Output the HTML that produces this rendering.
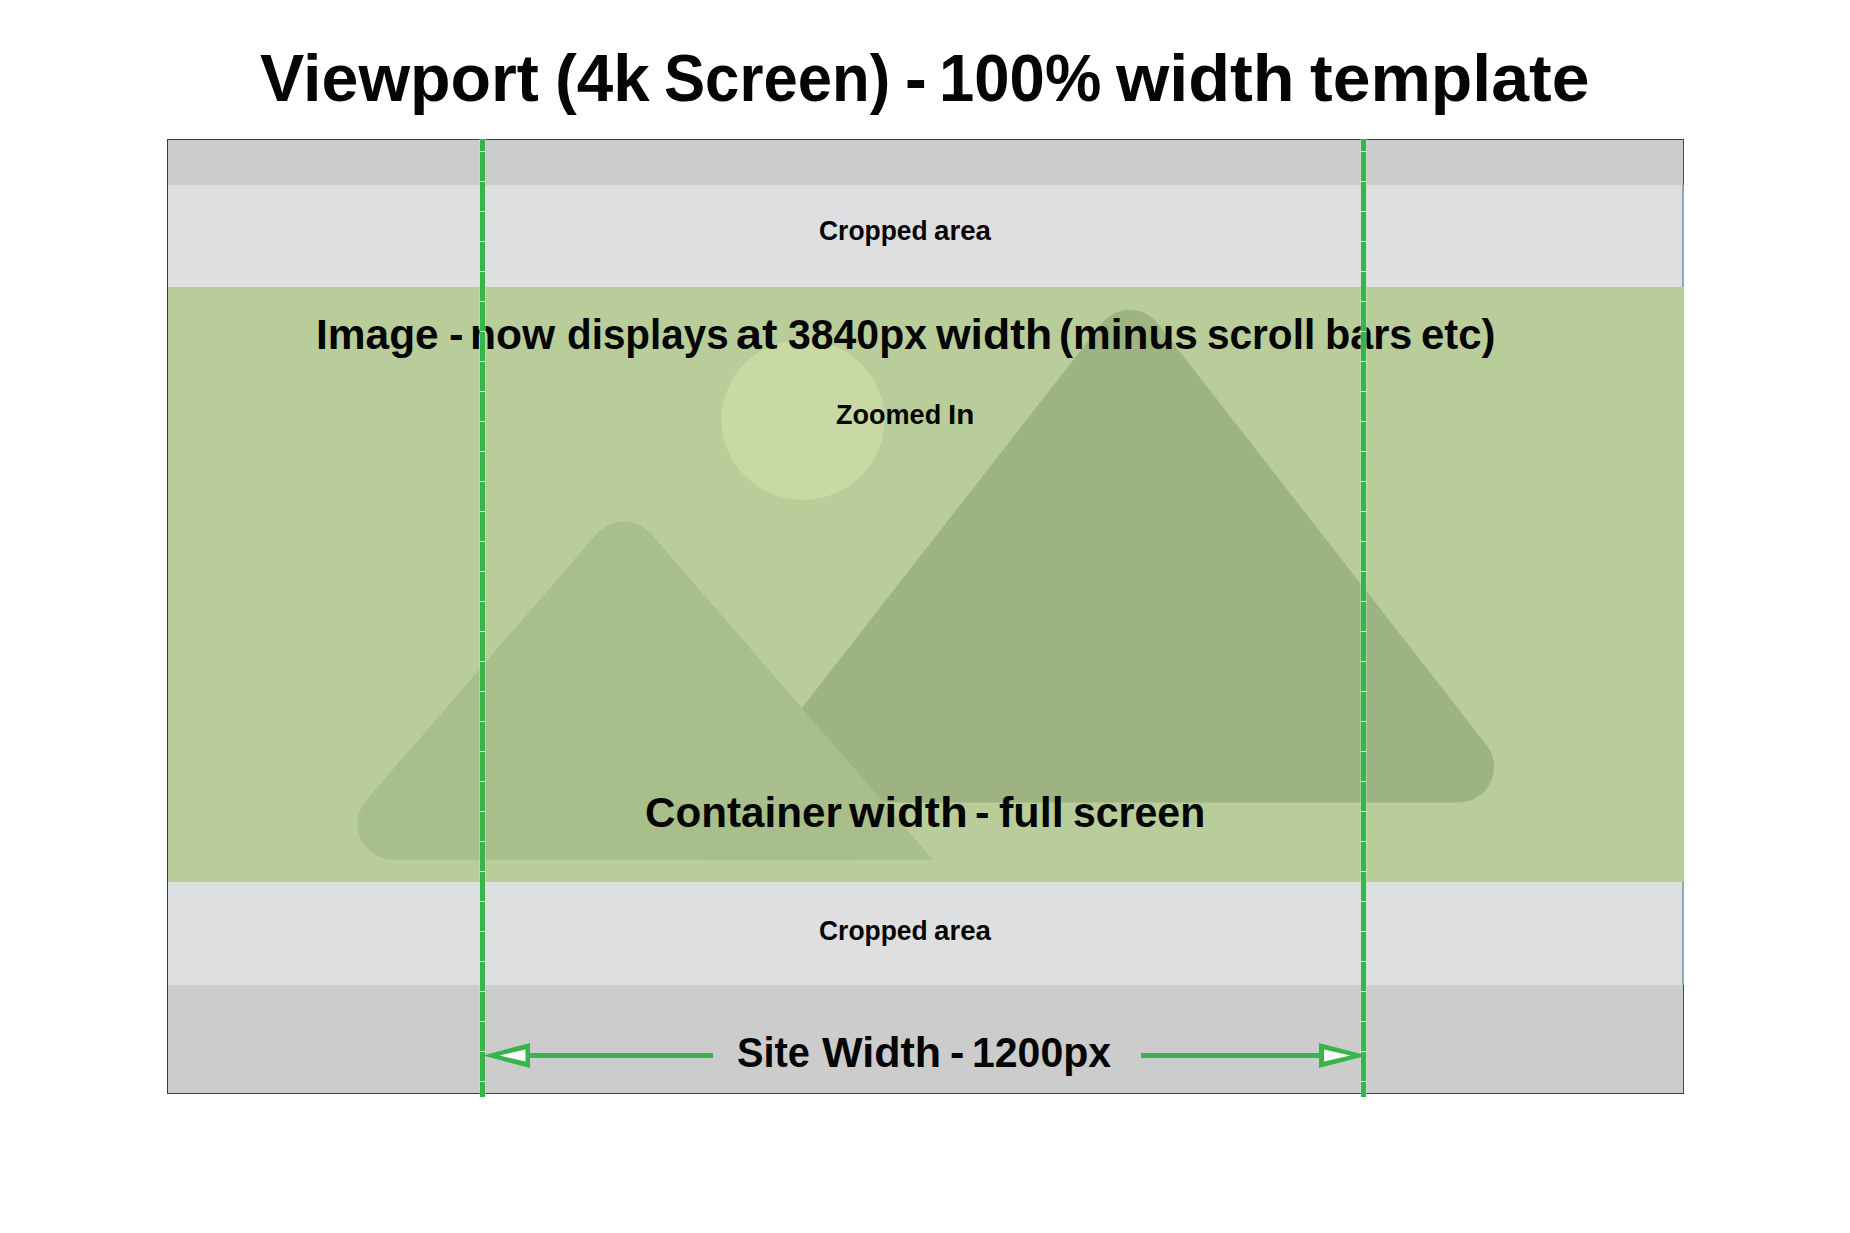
<!DOCTYPE html>
<html><head><meta charset="utf-8"><style>
html,body{margin:0;padding:0;background:#fff;width:1850px;height:1233px;overflow:hidden}
.t{position:absolute;font-family:"Liberation Sans",sans-serif;font-weight:bold;color:#050505;white-space:nowrap;transform-origin:0 0}
svg{position:absolute;left:0;top:0}
</style></head><body>
<svg width="1850" height="1233" viewBox="0 0 1850 1233">
 <rect x="167" y="139" width="1517" height="955" fill="#1e4466"/>
 <rect x="168" y="140" width="1515" height="953" fill="#cccccc"/>
 <rect x="168" y="185" width="1514" height="102" fill="#dedfe1"/>
 <rect x="1683" y="140" width="1" height="45" fill="#22527a"/>
 <rect x="1683" y="985" width="1" height="108" fill="#22527a"/>
 <rect x="1682" y="185" width="2" height="102" fill="#8fa5b8"/>
 <rect x="168" y="882" width="1514" height="103" fill="#dedfe1"/>
 <rect x="1682" y="882" width="2" height="103" fill="#8fa5b8"/>
 <rect x="168" y="287" width="1516" height="595" fill="#b9cd9b"/>
 <ellipse cx="803" cy="419.8" rx="81.6" ry="80" fill="#c8d9a3"/>
 <polygon points="1129.7,345.3 800.8,767 1458.6,767" fill="#9db482" stroke="#9db482" stroke-width="71" stroke-linejoin="round"/>
 <g fill="#a8bf8b">
  <polygon points="623.9,557.4 393.5,823.8 854.3,823.8" stroke="#a8bf8b" stroke-width="72" stroke-linejoin="round"/>
  <polygon points="933.1,859.8 700,859.8 700,760 846.7,760"/>
 </g>
</svg>
<div class="t" style="left:260.34px;top:45.46px;font-size:66.52px;line-height:66.52px;transform:scaleX(0.9976)">Viewport</div>
<div class="t" style="left:554.52px;top:45.46px;font-size:66.52px;line-height:66.52px;transform:scaleX(0.9863)">(4k</div>
<div class="t" style="left:663.95px;top:45.46px;font-size:66.52px;line-height:66.52px;transform:scaleX(0.9271)">Screen)</div>
<div class="t" style="left:904.79px;top:45.46px;font-size:66.52px;line-height:66.52px;transform:scaleX(0.9801)">-</div>
<div class="t" style="left:939.29px;top:45.46px;font-size:66.52px;line-height:66.52px;transform:scaleX(0.9543)">100%</div>
<div class="t" style="left:1116.20px;top:45.46px;font-size:66.52px;line-height:66.52px;transform:scaleX(1.0293)">width</div>
<div class="t" style="left:1309.62px;top:45.46px;font-size:66.52px;line-height:66.52px;transform:scaleX(1.0220)">template</div>
<div class="t" style="left:819.34px;top:217.32px;font-size:27.97px;line-height:27.97px;transform:scaleX(0.9456)">Cropped</div>
<div class="t" style="left:934.27px;top:217.32px;font-size:27.97px;line-height:27.97px;transform:scaleX(0.9898)">area</div>
<div class="t" style="left:316.13px;top:312.84px;font-size:42.90px;line-height:42.90px;transform:scaleX(0.9901)">Image</div>
<div class="t" style="left:448.76px;top:312.84px;font-size:42.90px;line-height:42.90px;transform:scaleX(1.0164)">-</div>
<div class="t" style="left:470.22px;top:312.84px;font-size:42.90px;line-height:42.90px;transform:scaleX(0.9928)">now</div>
<div class="t" style="left:566.58px;top:312.84px;font-size:42.90px;line-height:42.90px;transform:scaleX(0.9414)">displays</div>
<div class="t" style="left:736.30px;top:312.84px;font-size:42.90px;line-height:42.90px;transform:scaleX(1.0860)">at</div>
<div class="t" style="left:787.98px;top:312.84px;font-size:42.90px;line-height:42.90px;transform:scaleX(0.9553)">3840px</div>
<div class="t" style="left:936.20px;top:312.84px;font-size:42.90px;line-height:42.90px;transform:scaleX(1.0376)">width</div>
<div class="t" style="left:1059.48px;top:312.84px;font-size:42.90px;line-height:42.90px;transform:scaleX(0.9880)">(minus</div>
<div class="t" style="left:1206.98px;top:312.84px;font-size:42.90px;line-height:42.90px;transform:scaleX(0.9452)">scroll</div>
<div class="t" style="left:1324.71px;top:312.84px;font-size:42.90px;line-height:42.90px;transform:scaleX(0.9639)">bars</div>
<div class="t" style="left:1421.02px;top:312.84px;font-size:42.90px;line-height:42.90px;transform:scaleX(0.9766)">etc)</div>
<div class="t" style="left:836.19px;top:401.59px;font-size:26.96px;line-height:26.96px;transform:scaleX(1.0033)">Zoomed</div>
<div class="t" style="left:947.53px;top:401.59px;font-size:26.96px;line-height:26.96px;transform:scaleX(1.0983)">In</div>
<div class="t" style="left:644.81px;top:791.07px;font-size:43.33px;line-height:43.33px;transform:scaleX(0.9741)">Container</div>
<div class="t" style="left:848.90px;top:791.07px;font-size:43.33px;line-height:43.33px;transform:scaleX(1.0498)">width</div>
<div class="t" style="left:975.26px;top:791.07px;font-size:43.33px;line-height:43.33px;transform:scaleX(1.0062)">-</div>
<div class="t" style="left:998.84px;top:791.07px;font-size:43.33px;line-height:43.33px;transform:scaleX(0.9951)">full</div>
<div class="t" style="left:1072.66px;top:791.07px;font-size:43.33px;line-height:43.33px;transform:scaleX(0.9460)">screen</div>
<div class="t" style="left:819.34px;top:916.62px;font-size:27.39px;line-height:27.39px;transform:scaleX(0.9656)">Cropped</div>
<div class="t" style="left:934.27px;top:916.62px;font-size:27.39px;line-height:27.39px;transform:scaleX(1.0107)">area</div>
<div class="t" style="left:737.41px;top:1030.84px;font-size:42.90px;line-height:42.90px;transform:scaleX(0.9258)">Site</div>
<div class="t" style="left:821.90px;top:1030.84px;font-size:42.90px;line-height:42.90px;transform:scaleX(1.0038)">Width</div>
<div class="t" style="left:949.87px;top:1030.84px;font-size:42.90px;line-height:42.90px;transform:scaleX(1.0070)">-</div>
<div class="t" style="left:971.84px;top:1030.84px;font-size:42.90px;line-height:42.90px;transform:scaleX(0.9563)">1200px</div>
<svg width="1850" height="1233" viewBox="0 0 1850 1233">
 <rect x="479" y="139" width="1" height="958" fill="#c8f0c8" fill-opacity="0.35"/><rect x="485" y="139" width="1" height="958" fill="#b0f0c0" fill-opacity="0.5"/><rect x="480" y="139" width="5" height="958" fill="#37b54a"/><rect x="480" y="151" width="5" height="1" fill="#d4f7d4"/><rect x="480" y="181" width="5" height="1" fill="#d4f7d4"/><rect x="480" y="211" width="5" height="1" fill="#d4f7d4"/><rect x="480" y="241" width="5" height="1" fill="#d4f7d4"/><rect x="480" y="271" width="5" height="1" fill="#d4f7d4"/><rect x="480" y="301" width="5" height="1" fill="#d4f7d4"/><rect x="480" y="331" width="5" height="1" fill="#d4f7d4"/><rect x="480" y="361" width="5" height="1" fill="#d4f7d4"/><rect x="480" y="391" width="5" height="1" fill="#d4f7d4"/><rect x="480" y="421" width="5" height="1" fill="#d4f7d4"/><rect x="480" y="451" width="5" height="1" fill="#d4f7d4"/><rect x="480" y="481" width="5" height="1" fill="#d4f7d4"/><rect x="480" y="511" width="5" height="1" fill="#d4f7d4"/><rect x="480" y="541" width="5" height="1" fill="#d4f7d4"/><rect x="480" y="571" width="5" height="1" fill="#d4f7d4"/><rect x="480" y="601" width="5" height="1" fill="#d4f7d4"/><rect x="480" y="631" width="5" height="1" fill="#d4f7d4"/><rect x="480" y="661" width="5" height="1" fill="#d4f7d4"/><rect x="480" y="691" width="5" height="1" fill="#d4f7d4"/><rect x="480" y="721" width="5" height="1" fill="#d4f7d4"/><rect x="480" y="751" width="5" height="1" fill="#d4f7d4"/><rect x="480" y="781" width="5" height="1" fill="#d4f7d4"/><rect x="480" y="811" width="5" height="1" fill="#d4f7d4"/><rect x="480" y="841" width="5" height="1" fill="#d4f7d4"/><rect x="480" y="871" width="5" height="1" fill="#d4f7d4"/><rect x="480" y="901" width="5" height="1" fill="#d4f7d4"/><rect x="480" y="931" width="5" height="1" fill="#d4f7d4"/><rect x="480" y="961" width="5" height="1" fill="#d4f7d4"/><rect x="480" y="991" width="5" height="1" fill="#d4f7d4"/><rect x="480" y="1021" width="5" height="1" fill="#d4f7d4"/><rect x="480" y="1051" width="5" height="1" fill="#d4f7d4"/><rect x="480" y="1081" width="5" height="1" fill="#d4f7d4"/>
 <rect x="1360" y="139" width="1" height="958" fill="#c8f0c8" fill-opacity="0.35"/><rect x="1366" y="139" width="1" height="958" fill="#b0f0c0" fill-opacity="0.5"/><rect x="1361" y="139" width="5" height="958" fill="#37b54a"/><rect x="1361" y="151" width="5" height="1" fill="#d4f7d4"/><rect x="1361" y="181" width="5" height="1" fill="#d4f7d4"/><rect x="1361" y="211" width="5" height="1" fill="#d4f7d4"/><rect x="1361" y="241" width="5" height="1" fill="#d4f7d4"/><rect x="1361" y="271" width="5" height="1" fill="#d4f7d4"/><rect x="1361" y="301" width="5" height="1" fill="#d4f7d4"/><rect x="1361" y="331" width="5" height="1" fill="#d4f7d4"/><rect x="1361" y="361" width="5" height="1" fill="#d4f7d4"/><rect x="1361" y="391" width="5" height="1" fill="#d4f7d4"/><rect x="1361" y="421" width="5" height="1" fill="#d4f7d4"/><rect x="1361" y="451" width="5" height="1" fill="#d4f7d4"/><rect x="1361" y="481" width="5" height="1" fill="#d4f7d4"/><rect x="1361" y="511" width="5" height="1" fill="#d4f7d4"/><rect x="1361" y="541" width="5" height="1" fill="#d4f7d4"/><rect x="1361" y="571" width="5" height="1" fill="#d4f7d4"/><rect x="1361" y="601" width="5" height="1" fill="#d4f7d4"/><rect x="1361" y="631" width="5" height="1" fill="#d4f7d4"/><rect x="1361" y="661" width="5" height="1" fill="#d4f7d4"/><rect x="1361" y="691" width="5" height="1" fill="#d4f7d4"/><rect x="1361" y="721" width="5" height="1" fill="#d4f7d4"/><rect x="1361" y="751" width="5" height="1" fill="#d4f7d4"/><rect x="1361" y="781" width="5" height="1" fill="#d4f7d4"/><rect x="1361" y="811" width="5" height="1" fill="#d4f7d4"/><rect x="1361" y="841" width="5" height="1" fill="#d4f7d4"/><rect x="1361" y="871" width="5" height="1" fill="#d4f7d4"/><rect x="1361" y="901" width="5" height="1" fill="#d4f7d4"/><rect x="1361" y="931" width="5" height="1" fill="#d4f7d4"/><rect x="1361" y="961" width="5" height="1" fill="#d4f7d4"/><rect x="1361" y="991" width="5" height="1" fill="#d4f7d4"/><rect x="1361" y="1021" width="5" height="1" fill="#d4f7d4"/><rect x="1361" y="1051" width="5" height="1" fill="#d4f7d4"/><rect x="1361" y="1081" width="5" height="1" fill="#d4f7d4"/>
 <rect x="529" y="1053" width="184" height="5" fill="#37b54a"/>
 <polygon points="483,1055.5 530,1043 530,1068" fill="#37b54a"/>
 <polygon points="499.5,1055.5 525.5,1049.5 525.5,1061.5" fill="#fff"/>
 <rect x="1141" y="1053" width="180" height="5" fill="#37b54a"/>
 <polygon points="1367,1055.5 1319,1043 1319,1068" fill="#37b54a"/>
 <polygon points="1350.5,1055.5 1324,1049.5 1324,1061.5" fill="#fff"/>
</svg>
</body></html>
